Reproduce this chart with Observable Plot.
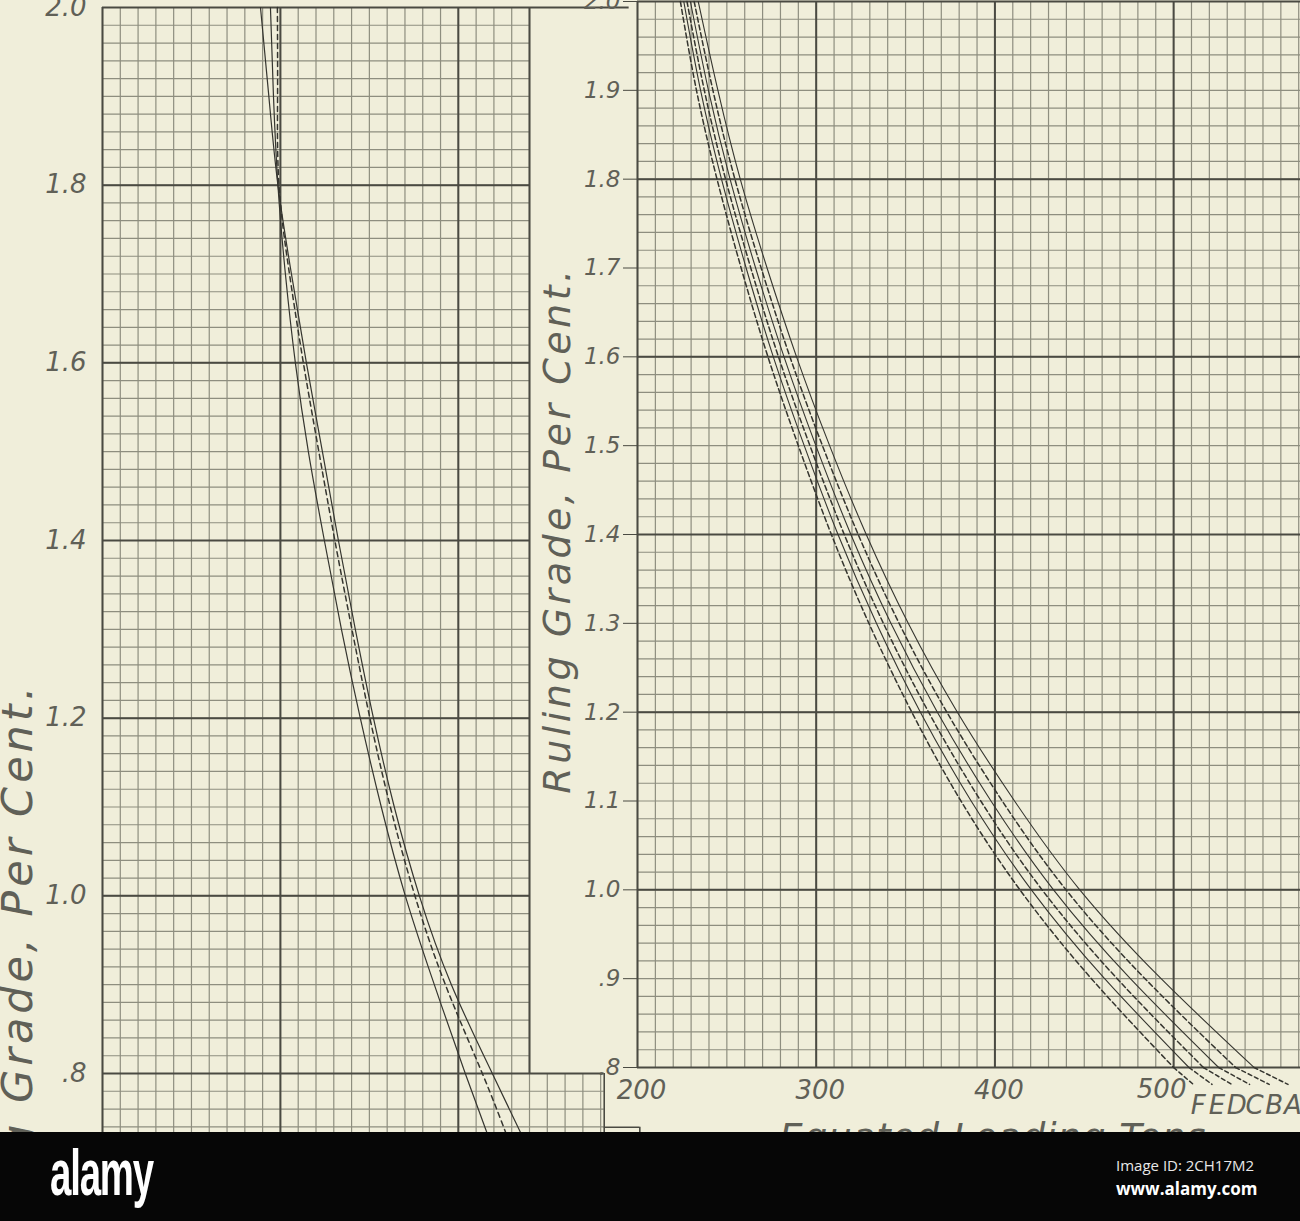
<!DOCTYPE html>
<html><head><meta charset="utf-8">
<script src="https://cdn.jsdelivr.net/npm/d3@7"></script>
<script src="https://cdn.jsdelivr.net/npm/@observablehq/plot@0.6"></script>
<style>
html,body{margin:0;padding:0;background:#f0eeda;}
#wrap{position:relative;width:1300px;height:1221px;overflow:hidden;background:#f0eeda;}
#wrap svg{position:absolute;left:0;top:0;}
#bar{position:absolute;left:0;top:1132px;width:1300px;height:89px;background:#060606;}
#logo{position:absolute;left:50px;top:1136px;color:#fff;font-family:"Liberation Sans Narrow","Liberation Sans",sans-serif;font-weight:bold;font-size:64px;letter-spacing:-2px;transform:scaleX(0.6);transform-origin:left top;}
#imgid{position:absolute;left:1116px;top:1155px;color:#e8e8e8;font-family:"Open Sans",sans-serif;font-size:15px;}
#url{position:absolute;left:1116px;top:1177px;color:#fff;font-family:"Open Sans",sans-serif;font-weight:bold;font-size:17px;}
</style></head><body>
<div id="wrap"></div>
<script>
// ---------- right panel data (Equated Loading Tons vs Ruling Grade) ----------
const rightGrades = [2.0, 1.9, 1.8, 1.7, 1.6, 1.5, 1.4, 1.3, 1.2, 1.1, 1.0, 0.9, 0.8];
const curveNames = ["F", "E", "D", "C", "B", "A"];
const tonsF = [224.0, 233.0, 244.5, 258.0, 273.0, 290.0, 308.5, 329.5, 353.5, 381.0, 414.0, 454.0, 500.0];
const tonsE = [225.9, 235.3, 247.0, 260.8, 276.0, 293.3, 312.2, 333.7, 358.3, 386.7, 420.4, 461.4, 508.6];
const tonsD = [227.7, 237.4, 249.3, 263.4, 278.9, 296.5, 315.7, 337.6, 362.9, 392.1, 426.4, 468.4, 516.7];
const tonsC = [229.6, 239.7, 251.8, 266.1, 282.0, 299.8, 319.4, 341.8, 367.8, 397.8, 432.8, 475.8, 525.2];
const tonsB = [231.7, 242.2, 254.5, 269.2, 285.3, 303.5, 323.5, 346.4, 373.1, 404.1, 439.8, 484.0, 534.7];
const tonsA = [234.0, 245.0, 257.5, 272.5, 289.0, 307.5, 328.0, 351.5, 379.0, 411.0, 447.5, 493.0, 545.0];
const extGrade = 0.781;
const extTons = [511.0, 521.5, 532.5, 542.5, 553.5, 564.0];   // F..A dashed run-outs to the letters
const rightTickValues = [2.0, 1.9, 1.8, 1.7, 1.6, 1.5, 1.4, 1.3, 1.2, 1.1, 1.0, 0.9, 0.8];
const rightTickLabels = ["2.0", "1.9", "1.8", "1.7", "1.6", "1.5", "1.4", "1.3", "1.2", "1.1", "1.0", ".9", ".8"];
const xTickValues = [200, 300, 400, 500];
const xTickLabels = ["200", "300", "400", "500"];

// ---------- left panel data (partial neighbouring chart) ----------
const leftGrades = [2.0, 1.9, 1.8, 1.7, 1.6, 1.5, 1.4, 1.3, 1.2, 1.1, 1.0, 0.9, 0.8, 0.72];
const leftCurveP = [188.8, 193.5, 198.6, 206.2, 214.6, 223.6, 232.6, 242.1, 252.3, 264.0, 278.1, 296.1, 319.1, 338.2];
const leftCurveQ = [194.4, 196.1, 198.6, 202.8, 208.4, 215.7, 224.7, 234.3, 244.9, 256.7, 270.2, 286.5, 303.9, 318.5];
const leftCurveM = [198.3, 198.4, 199.2, 205.1, 212.9, 221.6, 230.6, 240.2, 250.3, 261.8, 275.6, 292.7, 313.5, 329.2];
const leftTickValues = [2.0, 1.8, 1.6, 1.4, 1.2, 1.0, 0.8];
const leftTickLabels = ["2.0", "1.8", "1.6", "1.4", "1.2", "1.0", ".8"];

const yTitle = "Ruling Grade, Per Cent.";
const xTitle = "Equated Loading Tons";

// ---------- styles ----------
const INK = "#35352f", MINOR = "#8e8e7f", MAJOR = "#4a4a42", LABEL = "#606057";
const FONT = "DejaVu Sans";

const seriesTons = {F: tonsF, E: tonsE, D: tonsD, C: tonsC, B: tonsB, A: tonsA};
const rightRows = curveNames.flatMap(n => rightGrades.map((g, i) => ({curve: n, grade: g, tons: seriesTons[n][i]})));
const extRows = curveNames.flatMap((n, i) => [
  {curve: n, grade: 0.8, tons: seriesTons[n][seriesTons[n].length - 1]},
  {curve: n, grade: extGrade, tons: extTons[i]}
]);
const letterRows = curveNames.map((n, i) => ({curve: n, grade: extGrade, tons: extTons[i]}));
const solidSet = new Set(["A", "C", "E"]);

const fmtR = new Map(rightTickValues.map((v, i) => [v, rightTickLabels[i]]));
const fmtL = new Map(leftTickValues.map((v, i) => [v, leftTickLabels[i]]));
const xLabelRows = xTickValues.map((v, i) => ({v, label: xTickLabels[i]}));

const minorXR = d3.range(200, 571, 10);
const minorYR = d3.range(40, 101, 1).map(k => k / 50);
const majorYR = [0.8, 1.0, 1.2, 1.4, 1.6, 1.8, 2.0];
const labelStyle = {fontStyle: "italic", fontWeight: 300, fill: LABEL};

const right = Plot.plot({
  width: 1300, height: 1221,
  marginLeft: 637, marginRight: 0, marginTop: 1, marginBottom: 154,
  x: {domain: [200, 571], axis: null},
  y: {domain: [0.8, 2.0], axis: null},
  style: {background: "transparent", fontFamily: FONT, color: LABEL, overflow: "visible"},
  marks: [
    Plot.ruleX(minorXR, {stroke: MINOR, strokeWidth: 1.2}),
    Plot.ruleY(minorYR, {stroke: MINOR, strokeWidth: 1.2}),
    Plot.ruleX(xTickValues, {stroke: MAJOR, strokeWidth: 2}),
    Plot.ruleY(majorYR, {stroke: MAJOR, strokeWidth: 2}),
    Plot.line(rightRows.filter(d => solidSet.has(d.curve)), {x: "tons", y: "grade", z: "curve", curve: "natural", stroke: INK, strokeWidth: 1.1}),
    Plot.line(rightRows.filter(d => !solidSet.has(d.curve)), {x: "tons", y: "grade", z: "curve", curve: "natural", stroke: INK, strokeWidth: 1.5, strokeDasharray: "5,3"}),
    Plot.line(extRows, {x: "tons", y: "grade", z: "curve", stroke: INK, strokeWidth: 1.5, strokeDasharray: "4,3"}),
    Plot.text(letterRows, {x: "tons", y: "grade", text: "curve", dx: 5, dy: 21, lineAnchor: "middle", fontSize: 26, ...labelStyle}),
    Plot.axisY(rightTickValues, {anchor: "left", label: null, tickSize: 14, tickPadding: 3, tickFormat: d => fmtR.get(d), fontSize: 23, ...labelStyle, stroke: MAJOR}),
    Plot.text(xLabelRows.filter(d => d.v < 500), {x: "v", text: "label", frameAnchor: "bottom", lineAnchor: "middle", dx: 4, dy: 23, fontSize: 26, ...labelStyle}),
    Plot.text(xLabelRows.filter(d => d.v >= 500), {x: "v", text: "label", frameAnchor: "bottom", lineAnchor: "middle", dx: -12, dy: 22, fontSize: 26, ...labelStyle}),
    Plot.text([yTitle], {frameAnchor: "left", y: 1.405, dx: -68, rotate: -90, textAnchor: "middle", lineAnchor: "bottom", fontSize: 38, ...labelStyle}),
    Plot.text([xTitle], {frameAnchor: "bottom", dx: 24, dy: 82, textAnchor: "middle", lineAnchor: "bottom", fontSize: 37, ...labelStyle})
  ]
});

// ---------- left panel ----------
const leftRows = [
  ...leftGrades.map((g, i) => ({curve: "P", grade: g, tons: leftCurveP[i]})),
  ...leftGrades.map((g, i) => ({curve: "Q", grade: g, tons: leftCurveQ[i]}))
];
const leftRowsM = leftGrades.map((g, i) => ({curve: "M", grade: g, tons: leftCurveM[i]}));
const minorXL = d3.range(100, 341, 10);
const minorYL = d3.range(40, 101, 1).map(k => k / 50);
const extX = d3.range(100, 381, 10);
const extY = [0.78, 0.76, 0.74, 0.72];

const left = Plot.plot({
  width: 1300, height: 1221,
  marginLeft: 102, marginRight: 771, marginTop: 7, marginBottom: 148,
  x: {domain: [100, 340], axis: null},
  y: {domain: [0.8, 2.0], axis: null},
  style: {background: "transparent", fontFamily: FONT, color: LABEL, overflow: "visible"},
  marks: [
    Plot.ruleX(minorXL, {stroke: MINOR, strokeWidth: 1.2}),
    Plot.ruleY(minorYL, {stroke: MINOR, strokeWidth: 1.2}),
    Plot.ruleX(extX, {y1: 0.8, y2: 0.68, stroke: MINOR, strokeWidth: 1.2}),
    Plot.ruleY(extY, {x1: 100, x2: 382, stroke: MINOR, strokeWidth: 1.2}),
    Plot.ruleX([100, 200, 300, 340], {stroke: MAJOR, strokeWidth: 2}),
    Plot.ruleX([100, 200, 300], {y1: 0.8, y2: 0.68, stroke: MAJOR, strokeWidth: 2}),
    Plot.ruleX([382], {y1: 0.8, y2: 0.68, stroke: MAJOR, strokeWidth: 1.6}),
    Plot.ruleY([1.0, 1.2, 1.4, 1.6, 1.8], {stroke: MAJOR, strokeWidth: 2}),
    Plot.ruleY([2.0], {x1: 100, x2: 396, stroke: MAJOR, strokeWidth: 2}),
    Plot.ruleY([0.8], {x1: 100, x2: 382, stroke: MAJOR, strokeWidth: 2}),
    Plot.ruleY([0.7395], {x1: 382, x2: 402, stroke: MAJOR, strokeWidth: 1.6}),
    Plot.ruleX([402], {y1: 0.7395, y2: 0.68, stroke: MAJOR, strokeWidth: 1.6}),
    Plot.line(leftRows, {x: "tons", y: "grade", z: "curve", curve: "natural", stroke: INK, strokeWidth: 1.2}),
    Plot.line(leftRowsM, {x: "tons", y: "grade", curve: "natural", stroke: INK, strokeWidth: 1.5, strokeDasharray: "5,4"}),
    Plot.axisY(leftTickValues, {anchor: "left", label: null, tickSize: 0, tickPadding: 16, tickFormat: d => fmtL.get(d), fontSize: 26, ...labelStyle}),
    Plot.text([yTitle], {frameAnchor: "left", y: 1.24, dx: -71, rotate: -90, textAnchor: "end", lineAnchor: "bottom", fontSize: 43, ...labelStyle})
  ]
});

const wrap = document.getElementById("wrap");
wrap.appendChild(left);
wrap.appendChild(right);
// hand-lettered spacing for the long titles
d3.select(left).selectAll("text").filter(function(){ return this.textContent === yTitle; }).attr("letter-spacing", "4px");
d3.select(right).selectAll("text").filter(function(){ return this.textContent === yTitle; }).attr("letter-spacing", "3.5px");
d3.select(right).selectAll("text").filter(function(){ return this.textContent === xTitle; }).attr("letter-spacing", "1px");

const bar = document.createElement("div"); bar.id = "bar"; wrap.appendChild(bar);
const logo = document.createElement("div"); logo.id = "logo"; logo.textContent = "alamy"; wrap.appendChild(logo);
const imgid = document.createElement("div"); imgid.id = "imgid"; imgid.textContent = "Image ID: 2CH17M2"; wrap.appendChild(imgid);
const url = document.createElement("div"); url.id = "url"; url.textContent = "www.alamy.com"; wrap.appendChild(url);
</script>
</body></html>
